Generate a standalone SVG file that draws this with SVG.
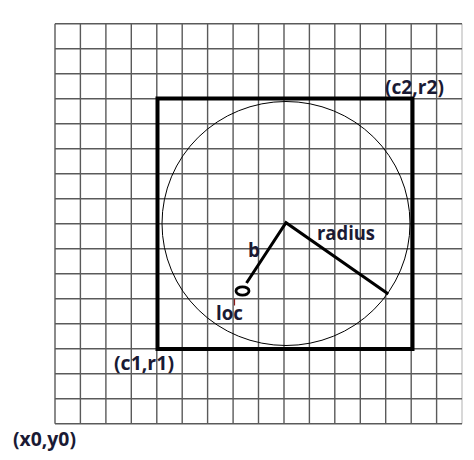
<svg xmlns="http://www.w3.org/2000/svg" width="474" height="460" viewBox="0 0 474 460">
<style>
.g{stroke:#5a5a5a;stroke-width:1.4;fill:none}
.gl{stroke:#c8c8c8;stroke-width:1.4;fill:none}
.t{font-family:"Open Sans","Noto Sans",sans-serif;font-weight:bold;font-size:19px;fill:#1a1a34}
.k{stroke:#000;fill:none}
</style>
<rect width="474" height="460" fill="#fff"/>
<g id="grid">
<path class="g" d="M55 23.7V423.7M80.4 23.7V423.7M105.9 23.7V423.7M131.3 23.7V423.7M156.8 23.7V423.7M182.2 23.7V423.7M207.6 23.7V423.7M233.1 23.7V423.7M258.5 23.7V423.7M284 23.7V423.7M309.4 23.7V423.7M334.8 23.7V423.7M360.3 23.7V423.7M385.7 23.7V423.7M411.2 23.7V423.7M436.6 23.7V423.7"/>
<path class="gl" d="M462 23.7V423.7"/>
<path class="g" d="M55 23.7H462M55 48.7H462M55 73.7H462M55 98.7H462M55 123.7H462M55 148.7H462M55 173.7H462M55 198.7H462M55 223.7H462M55 248.7H462M55 273.7H462M55 298.7H462M55 323.7H462M55 348.7H462M55 373.7H462M55 398.7H462M55 423.7H462"/>
</g>
<g id="box">
<rect class="k" x="157.5" y="98.5" width="255" height="250.5" stroke-width="4"/>
</g>
<g id="circle">
<ellipse class="k" cx="286" cy="223.5" rx="124" ry="122" stroke-width="1" stroke="#333"/>
</g>
<g id="connectors">
<path class="k" d="M246.5 283L286 222.7L388.3 294" stroke-width="3"/>
<ellipse class="k" cx="242.5" cy="291" rx="6.5" ry="4.2" stroke-width="2.8"/>
<path d="M234.5 299V305.5" stroke="#8b1a1a" stroke-width="1.2"/>
</g>
<g id="labels">
<text class="t" x="385" y="93.5" textLength="59" lengthAdjust="spacingAndGlyphs">(c2,r2)</text>
<text class="t" x="317" y="240" textLength="58" lengthAdjust="spacingAndGlyphs">radius</text>
<text class="t" x="248" y="257" textLength="12" lengthAdjust="spacingAndGlyphs">b</text>
<text class="t" x="216" y="319.5" textLength="27" lengthAdjust="spacingAndGlyphs">loc</text>
<text class="t" x="114" y="370" textLength="60" lengthAdjust="spacingAndGlyphs">(c1,r1)</text>
<text class="t" x="13" y="446" textLength="63" lengthAdjust="spacingAndGlyphs">(x0,y0)</text>
</g>
</svg>
